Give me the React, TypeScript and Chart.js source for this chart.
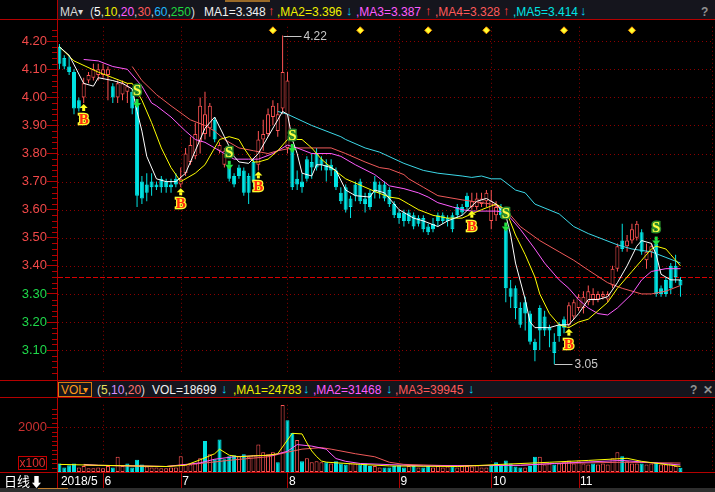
import React, { useEffect, useRef } from 'react';
import { Chart, registerables } from 'chart.js';

Chart.register(...registerables);

// ---------------- data ----------------
const opens = [
  4.18, 4.14, 4.11, 4.09, 3.99, 4.00, 4.06, 4.07, 4.08, 4.08,
  4.08, 4.04, 4.00, 4.01, 4.02, 4.02, 3.97, 3.70, 3.69, 3.70,
  3.69, 3.71, 3.70, 3.69, 3.71, 3.69, 3.73, 3.77, 3.79, 3.84,
  3.87, 3.89, 3.92, 3.81, 3.76, 3.755, 3.72, 3.75, 3.74, 3.72,
  3.77, 3.76, 3.85, 3.87, 3.93, 3.88, 3.96, 3.82, 3.81, 3.71,
  3.70, 3.78, 3.77, 3.80, 3.78, 3.76, 3.76, 3.74, 3.66, 3.68,
  3.64, 3.69, 3.70, 3.64, 3.66, 3.70, 3.69, 3.69, 3.67, 3.62,
  3.59, 3.59, 3.59, 3.58, 3.57, 3.57, 3.54, 3.55, 3.58, 3.58,
  3.57, 3.58, 3.61, 3.61, 3.65, 3.61, 3.61, 3.62, 3.63, 3.56,
  3.58, 3.61, 3.53, 3.32, 3.32, 3.25, 3.27, 3.23, 3.13, 3.25,
  3.22, 3.18, 3.13, 3.19, 3.21, 3.19, 3.22, 3.25, 3.25, 3.27,
  3.28, 3.28, 3.29, 3.28, 3.33, 3.39, 3.49, 3.47, 3.49, 3.50,
  3.52, 3.42, 3.45, 3.48, 3.32, 3.35, 3.40, 3.40, 3.35,
];
const highs = [
  4.19, 4.15, 4.15, 4.10, 4.00, 4.07, 4.09, 4.12, 4.12, 4.12,
  4.11, 4.05, 4.06, 4.06, 4.05, 4.03, 3.98, 3.72, 3.73, 3.73,
  3.70, 3.72, 3.71, 3.71, 3.73, 3.75, 3.82, 3.86, 3.91, 4.00,
  4.02, 3.98, 3.93, 3.84, 3.82, 3.76, 3.73, 3.76, 3.75, 3.73,
  3.78, 3.88, 3.92, 3.96, 3.99, 3.98, 4.22, 4.09, 3.82, 3.74,
  3.73, 3.79, 3.80, 3.82, 3.79, 3.78, 3.78, 3.75, 3.68, 3.69,
  3.65, 3.70, 3.71, 3.66, 3.67, 3.72, 3.70, 3.70, 3.68, 3.63,
  3.60, 3.60, 3.60, 3.59, 3.58, 3.58, 3.55, 3.57, 3.59, 3.59,
  3.58, 3.59, 3.62, 3.62, 3.66, 3.66, 3.66, 3.66, 3.67, 3.67,
  3.63, 3.62, 3.54, 3.35, 3.33, 3.27, 3.29, 3.24, 3.14, 3.26,
  3.24, 3.19, 3.16, 3.20, 3.22, 3.27, 3.28, 3.30, 3.31, 3.33,
  3.32, 3.31, 3.31, 3.31, 3.40, 3.48, 3.55, 3.51, 3.55, 3.56,
  3.53, 3.48, 3.48, 3.49, 3.33, 3.36, 3.41, 3.44, 3.36,
];
const lows = [
  4.10, 4.10, 4.08, 3.94, 3.95, 3.98, 4.05, 4.06, 4.06, 4.07,
  3.99, 3.98, 3.98, 3.99, 3.98, 3.94, 3.61, 3.62, 3.63, 3.65,
  3.67, 3.66, 3.66, 3.66, 3.68, 3.68, 3.72, 3.76, 3.78, 3.80,
  3.85, 3.86, 3.84, 3.80, 3.75, 3.70, 3.68, 3.71, 3.65, 3.62,
  3.68, 3.74, 3.81, 3.86, 3.90, 3.86, 3.94, 3.80, 3.67, 3.67,
  3.66, 3.70, 3.71, 3.74, 3.74, 3.70, 3.72, 3.67, 3.62, 3.59,
  3.57, 3.63, 3.62, 3.59, 3.60, 3.64, 3.64, 3.63, 3.61, 3.57,
  3.55, 3.54, 3.55, 3.53, 3.54, 3.52, 3.51, 3.52, 3.54, 3.55,
  3.54, 3.52, 3.57, 3.58, 3.60, 3.60, 3.60, 3.61, 3.61, 3.53,
  3.56, 3.57, 3.27, 3.25, 3.21, 3.18, 3.17, 3.12, 3.06, 3.10,
  3.15, 3.11, 3.05, 3.13, 3.16, 3.18, 3.21, 3.24, 3.23, 3.26,
  3.26, 3.27, 3.28, 3.27, 3.32, 3.38, 3.45, 3.45, 3.48, 3.49,
  3.44, 3.39, 3.43, 3.29, 3.29, 3.29, 3.30, 3.34, 3.29,
];
const closes = [
  4.12, 4.11, 4.09, 3.96, 3.96, 4.05, 4.08, 4.10, 4.10, 4.10,
  4.10, 4.00, 4.05, 4.05, 4.04, 3.96, 3.65, 3.64, 3.66, 3.68,
  3.68, 3.68, 3.68, 3.68, 3.69, 3.71, 3.80, 3.83, 3.87, 3.97,
  3.94, 3.97, 3.85, 3.83, 3.81, 3.71, 3.69, 3.72, 3.66, 3.66,
  3.70, 3.85, 3.87, 3.94, 3.97, 3.94, 4.09, 4.06, 3.68, 3.69,
  3.68, 3.71, 3.75, 3.75, 3.76, 3.74, 3.74, 3.68, 3.63, 3.60,
  3.61, 3.65, 3.63, 3.62, 3.61, 3.66, 3.66, 3.64, 3.62, 3.58,
  3.57, 3.56, 3.56, 3.54, 3.55, 3.53, 3.52, 3.53, 3.56, 3.56,
  3.56, 3.53, 3.58, 3.59, 3.61, 3.63, 3.64, 3.64, 3.66, 3.63,
  3.61, 3.58, 3.32, 3.29, 3.25, 3.19, 3.23, 3.13, 3.10, 3.17,
  3.17, 3.17, 3.09, 3.15, 3.18, 3.26, 3.27, 3.29, 3.29, 3.31,
  3.30, 3.30, 3.30, 3.30, 3.39, 3.47, 3.46, 3.49, 3.53, 3.55,
  3.45, 3.45, 3.47, 3.30, 3.30, 3.30, 3.32, 3.36, 3.33,
];
// volume, in units of 100 shares
const volumes = [
  381, 204, 300, 380, 204, 272, 163, 163, 204, 163,
  272, 204, 680, 272, 380, 204, 544, 340, 245, 204,
  204, 163, 163, 204, 204, 707, 340, 340, 380, 612,
  1387, 789, 571, 1455, 571, 707, 748, 720, 789, 680,
  748, 1224, 884, 789, 884, 435, 2992, 2312, 1740, 1430,
  476, 612, 435, 476, 435, 435, 381, 476, 381, 340,
  381, 380, 340, 380, 272, 272, 204, 204, 204, 272,
  300, 204, 272, 272, 204, 204, 272, 204, 272, 204,
  245, 245, 204, 272, 272, 245, 300, 204, 204, 272,
  435, 272, 517, 380, 245, 204, 204, 272, 680, 680,
  340, 380, 340, 380, 435, 517, 380, 517, 380, 340,
  380, 340, 380, 340, 612, 884, 707, 476, 380, 380,
  380, 340, 380, 435, 340, 340, 380, 272, 187,
];

// moving-average lines, read as [candle index, value]
const ma5Pts = [
  [0, 4.18], [2, 4.15], [5, 4.05], [7, 4.04], [8, 4.07], [11, 4.06], [13, 4.05], [15, 4.03],
  [16, 3.95], [17, 3.88], [18, 3.79], [20, 3.71], [22, 3.70], [24, 3.70], [26, 3.73], [28, 3.81],
  [30, 3.89], [32, 3.93], [34, 3.86], [36, 3.79], [37, 3.77], [39, 3.765], [41, 3.80], [43, 3.86],
  [45, 3.92], [46, 3.95], [47, 3.94], [48, 3.85], [49, 3.80], [50, 3.73], [52, 3.72], [53, 3.76],
  [54, 3.76], [56, 3.75], [57, 3.74], [59, 3.67], [61, 3.65], [64, 3.645], [65, 3.67], [67, 3.66],
  [70, 3.60], [73, 3.57], [75, 3.56], [78, 3.54], [80, 3.56], [83, 3.58], [86, 3.63], [88, 3.64],
  [90, 3.62], [92, 3.58], [93, 3.51], [94, 3.41], [96, 3.28], [97, 3.20], [98, 3.18], [101, 3.18],
  [103, 3.19], [105, 3.19], [107, 3.23], [109, 3.28], [111, 3.28], [113, 3.29], [115, 3.34],
  [117, 3.40], [119, 3.47], [120, 3.49], [122, 3.48], [123, 3.44], [124, 3.37], [126, 3.35], [128, 3.35],
];
const ma10Pts = [
  [0, 4.18], [3, 4.13], [8, 4.09], [11, 4.07], [14, 4.05], [15, 4.05], [17, 3.99], [19, 3.91],
  [21, 3.82], [23, 3.75], [25, 3.70], [28, 3.73], [30, 3.76], [32, 3.82], [33, 3.85], [35, 3.86],
  [37, 3.85], [38, 3.82], [40, 3.77], [41, 3.77], [43, 3.78], [45, 3.81], [47, 3.85], [50, 3.85],
  [52, 3.82], [54, 3.78], [56, 3.75], [59, 3.71], [63, 3.68], [65, 3.665], [68, 3.645], [70, 3.64],
  [72, 3.62], [74, 3.60], [77, 3.58], [80, 3.57], [83, 3.57], [87, 3.60], [90, 3.62], [92, 3.60],
  [94, 3.51], [96, 3.44], [98, 3.36], [99, 3.30], [101, 3.23], [103, 3.19], [105, 3.18], [107, 3.20],
  [109, 3.21], [111, 3.24], [113, 3.27], [115, 3.32], [118, 3.38], [120, 3.42], [122, 3.46],
  [123, 3.47], [125, 3.46], [126, 3.44], [128, 3.40],
];
const ma20Pts = [
  [5, 4.135], [8, 4.13], [11, 4.11], [14, 4.10], [15, 4.08], [17, 4.04], [19, 3.98], [20, 3.97],
  [23, 3.93], [26, 3.88], [28, 3.85], [30, 3.84], [33, 3.81], [36, 3.78], [39, 3.78], [41, 3.78],
  [44, 3.80], [47, 3.83], [49, 3.82], [52, 3.80], [56, 3.80], [58, 3.79], [61, 3.76], [65, 3.725],
  [68, 3.685], [71, 3.675], [74, 3.66], [76, 3.645], [78, 3.625], [81, 3.61], [83, 3.60], [85, 3.595],
  [90, 3.595], [92, 3.59], [95, 3.53], [98, 3.46], [100, 3.41], [103, 3.35], [105, 3.32], [107, 3.28],
  [109, 3.25], [111, 3.23], [113, 3.225], [115, 3.25], [118, 3.30], [120, 3.35], [122, 3.38],
  [125, 3.39], [128, 3.39],
];
const ma30Pts = [
  [15, 4.11], [17, 4.06], [20, 4.01], [23, 3.97], [27, 3.92], [30, 3.90], [32, 3.88], [34, 3.85],
  [37, 3.82], [40, 3.81], [43, 3.80], [45, 3.81], [48, 3.82], [53, 3.82], [56, 3.82], [59, 3.80],
  [63, 3.77], [66, 3.75], [68, 3.745], [71, 3.725], [72, 3.71], [75, 3.68], [78, 3.65], [83, 3.635],
  [89, 3.62], [92, 3.60], [95, 3.54], [99, 3.49], [103, 3.45], [106, 3.42], [109, 3.385], [113, 3.34],
  [116, 3.32], [120, 3.30], [122, 3.30], [125, 3.31], [128, 3.33],
];
const ma60Pts = [
  [45, 3.95], [47, 3.94], [52, 3.90], [58, 3.86], [59, 3.85], [63, 3.82], [66, 3.805], [71, 3.765],
  [75, 3.74], [78, 3.73], [83, 3.72], [85, 3.715], [87, 3.72], [89, 3.71], [91, 3.71], [94, 3.67],
  [96, 3.66], [98, 3.62], [103, 3.585], [106, 3.54], [109, 3.515], [115, 3.475], [118, 3.46],
  [122, 3.45], [125, 3.43], [128, 3.41],
];
const volMa5Pts = [
  [0, 340], [8, 300], [15, 272], [22, 245], [26, 300], [29, 544], [32, 816], [33, 1020], [35, 748],
  [37, 680], [40, 720], [43, 748], [45, 816], [47, 1428], [48, 1727], [50, 1700], [51, 1300],
  [52, 940], [53, 690], [54, 490], [55, 440], [62, 340], [68, 272], [82, 245], [91, 340],
  [101, 435], [109, 517], [117, 612], [120, 476], [128, 248],
];
const volMa10Pts = [
  [5, 340], [8, 300], [22, 245], [29, 408], [32, 571], [36, 680], [40, 720], [44, 748], [47, 925],
  [49, 1224], [52, 1156], [55, 1020], [56, 800], [57, 600], [59, 476], [62, 380], [75, 272],
  [95, 300], [102, 380], [116, 517], [128, 315],
];
const volMa20Pts = [
  [5, 300], [22, 245], [29, 380], [36, 544], [43, 680], [47, 884], [50, 1020], [54, 1088],
  [56, 1020], [61, 816], [65, 680], [68, 435], [71, 340], [82, 272], [95, 300], [102, 380],
  [116, 435], [128, 399],
];

const monthTicks: [number, string][] = [
  [0, '2018/5'], [9, '6'], [25, '7'], [47, '8'], [70, '9'], [89, '10'], [107, '11'],
];
const priceTicks = [3.1, 3.2, 3.3, 3.4, 3.5, 3.6, 3.7, 3.8, 3.9, 4.0, 4.1, 4.2];
const volTicks = [2000];
const baseLine = 3.36;
const buySignals = [5, 25, 41, 85, 105];
const sellSignals = [16, 35, 48, 92, 123];
const infoMarks = [44, 62, 76, 88, 104, 118];
const highMarkIndex = 46;
const lowMarkIndex = 102;

// ---------------- layout / style ----------------
const SLOTS = 135;
const labels = Array.from({ length: SLOTS }, (_, i) => String(i));
const PRICE_MIN = 3.0177;
const PRICE_MAX = 4.2514;
const VOL_MAX = 3000;
const UP = '#ff5454';
const DOWN = '#00e4e4';
const FRAME = '#b40000';
const GRID = '#8c0000';
const FONT = 'Arial, "Liberation Sans", sans-serif';
const monthMap = new Map(monthTicks);

const toPts = (arr: number[][]) => arr.map(([i, v]) => ({ x: labels[i], y: v }));
const lineDs = (arr: number[][], color: string) => ({
  type: 'line', data: toPts(arr), borderColor: color, borderWidth: 1, pointRadius: 0,
  tension: 0, fill: false, order: 1,
});

function drawGrid(chart: any, hValues: number[]) {
  const { ctx, chartArea: a, scales } = chart;
  ctx.save();
  ctx.lineWidth = 1;
  ctx.strokeStyle = GRID;
  ctx.setLineDash([1, 3]);
  ctx.beginPath();
  for (const v of hValues) {
    const py = Math.round(scales.y.getPixelForValue(v)) + 0.5;
    ctx.moveTo(a.left + 1, py); ctx.lineTo(a.right, py);
  }
  for (const [i] of monthTicks) {
    if (i === 0) continue;
    const px = Math.round(scales.x.getPixelForValue(i)) + 0.5;
    ctx.moveTo(px, a.top); ctx.lineTo(px, a.bottom);
  }
  ctx.moveTo(Math.round(a.right) + 0.5, a.top); ctx.lineTo(Math.round(a.right) + 0.5, a.bottom);
  ctx.stroke();
  ctx.restore();
}

const pricePlugin = {
  id: 'priceDecor',
  beforeDatasetsDraw(chart: any) {
    drawGrid(chart, priceTicks);
    const { ctx, chartArea: a, scales } = chart;
    ctx.save();
    ctx.strokeStyle = '#d80000';
    ctx.setLineDash([5, 2]);
    ctx.beginPath();
    const by = Math.round(scales.y.getPixelForValue(baseLine)) + 0.5;
    ctx.moveTo(a.left + 1, by); ctx.lineTo(a.right, by);
    ctx.stroke();
    ctx.restore();
  },
  afterDatasetsDraw(chart: any) {
    const { ctx, chartArea: a, scales } = chart;
    const X = (i: number) => scales.x.getPixelForValue(i);
    const Y = (v: number) => scales.y.getPixelForValue(v);
    ctx.save();
    // minor ticks on the price axis
    ctx.strokeStyle = FRAME;
    ctx.lineWidth = 1;
    ctx.beginPath();
    for (let k = 151; k <= 212; k++) {
      if (k % 5 === 0) continue;
      const py = Math.round(Y(k / 50)) + 0.5;
      ctx.moveTo(52, py); ctx.lineTo(57, py);
    }
    ctx.stroke();

    // info diamonds on top
    for (const i of infoMarks) {
      const cx = X(i), cy = a.top + 3.5;
      ctx.beginPath();
      ctx.moveTo(cx, cy - 3.5); ctx.lineTo(cx + 3.5, cy); ctx.lineTo(cx, cy + 3.5); ctx.lineTo(cx - 3.5, cy);
      ctx.closePath();
      ctx.fillStyle = '#ffff30';
      ctx.fill();
      ctx.strokeStyle = '#ff9a00';
      ctx.stroke();
    }

    // buy signals
    ctx.textAlign = 'center';
    ctx.textBaseline = 'middle';
    for (const i of buySignals) {
      const cx = X(i), ly = Y(lows[i]);
      ctx.fillStyle = '#ffff20';
      ctx.beginPath();
      ctx.moveTo(cx, ly + 1); ctx.lineTo(cx + 4, ly + 5); ctx.lineTo(cx - 4, ly + 5); ctx.closePath();
      ctx.fill();
      ctx.fillRect(cx - 1.5, ly + 5, 3, 3);
      ctx.font = 'bold 15px "Liberation Serif", "DejaVu Serif", serif';
      ctx.lineWidth = 2.5;
      ctx.strokeStyle = '#ffff30';
      ctx.strokeText('B', cx, ly + 17);
      ctx.fillStyle = '#ff2a10';
      ctx.fillText('B', cx, ly + 17);
    }
    // sell signals
    for (const i of sellSignals) {
      const cx = X(i), hy = Y(highs[i]);
      ctx.fillStyle = '#22e040';
      ctx.fillRect(cx - 1.5, hy - 4, 3, 4);
      ctx.beginPath();
      ctx.moveTo(cx - 4, hy); ctx.lineTo(cx + 4, hy); ctx.lineTo(cx, hy + 5); ctx.closePath();
      ctx.fill();
      ctx.font = 'bold 15px "Liberation Serif", "DejaVu Serif", serif';
      ctx.lineWidth = 3;
      ctx.strokeStyle = '#2a8a2a';
      ctx.strokeText('S', cx, hy - 12);
      ctx.fillStyle = '#ffff40';
      ctx.fillText('S', cx, hy - 12);
    }

    // extreme value labels
    ctx.font = '12px ' + FONT;
    ctx.textAlign = 'left';
    ctx.strokeStyle = '#c8c8c8';
    ctx.fillStyle = '#c8c8c8';
    ctx.lineWidth = 1;
    const marks: [number, number][] = [[highMarkIndex, highs[highMarkIndex]], [lowMarkIndex, lows[lowMarkIndex]]];
    for (const [i, v] of marks) {
      const cx = Math.round(X(i)) + 0.5, vy = Math.round(Y(v)) + 0.5;
      ctx.beginPath(); ctx.moveTo(cx, vy); ctx.lineTo(cx + 18, vy); ctx.stroke();
      ctx.fillText(v.toFixed(2), cx + 20, vy);
    }
    ctx.restore();
  },
};

const volPlugin = {
  id: 'volDecor',
  beforeDatasetsDraw(chart: any) {
    drawGrid(chart, volTicks);
  },
  afterDraw(chart: any) {
    const { ctx, chartArea: a, scales, height } = chart;
    ctx.save();
    ctx.strokeStyle = FRAME;
    ctx.lineWidth = 1;
    ctx.beginPath();
    for (let v = 200; v < VOL_MAX; v += 200) {
      if (v === 2000) continue;
      const py = Math.round(scales.y.getPixelForValue(v)) + 0.5;
      ctx.moveTo(52, py); ctx.lineTo(57, py);
    }
    for (const [i] of monthTicks) {
      if (i === 0) continue;
      const px = Math.round(scales.x.getPixelForValue(i)) + 0.5;
      ctx.moveTo(px, a.bottom); ctx.lineTo(px, height);
    }
    ctx.stroke();
    ctx.strokeStyle = '#c80000';
    ctx.strokeRect(18.5, a.bottom - 15.5, 28, 13);
    ctx.fillStyle = '#e03030';
    ctx.font = '12px ' + FONT;
    ctx.textAlign = 'center';
    ctx.textBaseline = 'middle';
    ctx.fillText('x100', 32.5, a.bottom - 8.5);
    ctx.restore();
  },
};

const Txt = ({ x, y, color, size = 12, bold = false, family, children }: any) => (
  <span style={{
    position: 'absolute', left: x, top: y, color, fontSize: size, lineHeight: '14px',
    whiteSpace: 'pre', fontWeight: bold ? 'bold' : 'normal', fontFamily: family || FONT,
  }}>{children}</span>
);

const Line = ({ x, y, w, h }: any) => (
  <div style={{ position: 'absolute', left: x, top: y, width: w, height: h, background: FRAME }} />
);

export default function App() {
  const priceRef = useRef<HTMLCanvasElement>(null);
  const volRef = useRef<HTMLCanvasElement>(null);

  useEffect(() => {
    const isUp = closes.map((c, i) => c >= opens[i]);
    const volUp = closes.map((c, i) => c >= (i > 0 ? closes[i - 1] : opens[i]));

    const priceChart = new Chart(priceRef.current as HTMLCanvasElement, {
      type: 'bar',
      data: {
        labels,
        datasets: [
          lineDs(ma5Pts, '#ffffff'),
          lineDs(ma10Pts, '#ffff00'),
          lineDs(ma20Pts, '#ff5cff'),
          lineDs(ma30Pts, '#f05a5a'),
          lineDs(ma60Pts, '#3cd8e8'),
          {
            type: 'bar', data: opens.map((o, i) => [o, closes[i]]),
            backgroundColor: isUp.map((u) => (u ? '#000000' : DOWN)),
            borderColor: isUp.map((u) => (u ? UP : DOWN)),
            borderWidth: 1, borderSkipped: false, barThickness: 4, grouped: false,
            inflateAmount: 0, minBarLength: 1, order: 2,
          },
          {
            type: 'bar', data: highs.map((h, i) => [lows[i], h]),
            backgroundColor: isUp.map((u) => (u ? UP : DOWN)),
            borderWidth: 0, barThickness: 1, grouped: false, inflateAmount: 0, order: 3,
          },
        ] as any,
      },
      options: {
        responsive: false, animation: false, devicePixelRatio: 1, events: [],
        layout: { padding: { top: 1, right: 3, bottom: 1, left: 0 } },
        plugins: { legend: { display: false }, tooltip: { enabled: false } },
        scales: {
          x: { type: 'category', display: false, offset: true },
          y: {
            type: 'linear', position: 'left', min: PRICE_MIN, max: PRICE_MAX,
            afterFit: (s: any) => { s.width = 57; },
            afterBuildTicks: (s: any) => { s.ticks = priceTicks.map((v) => ({ value: v })); },
            ticks: {
              padding: 0, font: { size: 13, family: FONT },
              color: (c: any) => (c.tick && c.tick.value >= baseLine ? '#f04848' : '#1fd84a'),
              callback: (v: any) => Number(v).toFixed(2),
            },
            grid: { drawOnChartArea: false, drawTicks: true, tickLength: 10, color: FRAME },
            border: { display: false },
          },
        },
      } as any,
      plugins: [pricePlugin],
    });

    const volChart = new Chart(volRef.current as HTMLCanvasElement, {
      type: 'bar',
      data: {
        labels,
        datasets: [
          lineDs(volMa5Pts, '#ffff00'),
          lineDs(volMa10Pts, '#ff5cff'),
          lineDs(volMa20Pts, '#f05a5a'),
          {
            type: 'bar', data: volumes,
            backgroundColor: volUp.map((u) => (u ? '#000000' : DOWN)),
            borderColor: volUp.map((u) => (u ? UP : DOWN)),
            borderWidth: 1, borderSkipped: false, barThickness: 4, grouped: false,
            inflateAmount: 0, order: 2,
          },
        ] as any,
      },
      options: {
        responsive: false, animation: false, devicePixelRatio: 1, events: [],
        layout: { padding: { top: 1, right: 3, bottom: 0, left: 0 } },
        plugins: { legend: { display: false }, tooltip: { enabled: false } },
        scales: {
          x: {
            type: 'category', offset: true, position: 'bottom',
            afterFit: (s: any) => { s.height = 16; },
            grid: { display: false, drawTicks: false, tickLength: 0 },
            border: { display: false },
            ticks: {
              autoSkip: false, maxRotation: 0, minRotation: 0, align: 'start', labelOffset: 1.5,
              padding: 2, color: '#ffffff', font: { size: 12, family: FONT },
              callback: (_v: any, idx: number) => (monthMap.has(idx) ? monthMap.get(idx) : null),
            },
          },
          y: {
            type: 'linear', position: 'left', min: 0, max: VOL_MAX,
            afterFit: (s: any) => { s.width = 57; },
            afterBuildTicks: (s: any) => { s.ticks = volTicks.map((v) => ({ value: v })); },
            ticks: {
              padding: 0, font: { size: 13, family: FONT }, color: '#c83030',
              callback: (v: any) => String(v),
            },
            grid: { drawOnChartArea: false, drawTicks: true, tickLength: 10, color: FRAME },
            border: { display: false },
          },
        },
      } as any,
      plugins: [volPlugin],
    });

    return () => { priceChart.destroy(); volChart.destroy(); };
  }, []);

  const hdr = '#d8d8d8';
  return (
    <div style={{
      position: 'fixed', left: 0, top: 0, width: 715, height: 492, background: '#000',
      overflow: 'hidden', fontFamily: FONT,
    }}>
      {/* top MA header */}
      <div style={{ position: 'absolute', left: 58, top: 0, width: 657, height: 19, background: '#15151d' }} />
      <div style={{ position: 'absolute', left: 225, top: 0, width: 45, height: 2, background: '#9a6a28' }} />
      <Txt x={60} y={4.5} color={hdr}>MA</Txt>
      <Txt x={78} y={4.5} color={hdr} size={10}>▾</Txt>
      <Txt x={90} y={4.5} color={hdr}>
        (<span style={{ color: '#ffffff' }}>5</span>,<span style={{ color: '#f0f000' }}>10</span>,
        <span style={{ color: '#ff5cff' }}>20</span>,<span style={{ color: '#ff5a5a' }}>30</span>,
        <span style={{ color: '#20b8ff' }}>60</span>,<span style={{ color: '#20d840' }}>250</span>)
      </Txt>
      <Txt x={204} y={4.5} color="#f0f0f0">MA1=3.348</Txt>
      <Txt x={268} y={3.5} color="#ff4040" size={13} bold>↑</Txt>
      <Txt x={277} y={4.5} color="#f0f000">,MA2=3.396</Txt>
      <Txt x={346} y={3.5} color="#00d8ff" size={13} bold>↓</Txt>
      <Txt x={356} y={4.5} color="#ff5cff">,MA3=3.387</Txt>
      <Txt x={425} y={3.5} color="#ff4040" size={13} bold>↑</Txt>
      <Txt x={435} y={4.5} color="#ff5a5a">,MA4=3.328</Txt>
      <Txt x={503} y={3.5} color="#ff4040" size={13} bold>↑</Txt>
      <Txt x={513} y={4.5} color="#00e4e4">,MA5=3.414</Txt>
      <Txt x={580} y={3.5} color="#00d8ff" size={13} bold>↓</Txt>
      <Txt x={701} y={4.5} color="#909090" bold>?</Txt>

      <canvas ref={priceRef} width={715} height={362} style={{ position: 'absolute', left: 0, top: 19 }} />

      {/* VOL header */}
      <div style={{ position: 'absolute', left: 58, top: 381, width: 657, height: 16, background: '#15151d' }} />
      <div style={{
        position: 'absolute', left: 58, top: 382, width: 34, height: 15, boxSizing: 'border-box',
        border: '1px solid #d87a10',
      }} />
      <Txt x={61} y={382.5} color="#ff9a1a">VOL</Txt>
      <Txt x={83} y={382.5} color="#ff9a1a" size={10}>▾</Txt>
      <Txt x={97} y={382.5} color={hdr}>
        (<span style={{ color: '#e8e060' }}>5</span>,<span style={{ color: '#d890ff' }}>10</span>,
        <span style={{ color: '#ff7070' }}>20</span>)
      </Txt>
      <Txt x={152} y={382.5} color="#f0f0f0">VOL=18699</Txt>
      <Txt x={221} y={381.5} color="#00d8ff" size={13} bold>↓</Txt>
      <Txt x={233} y={382.5} color="#f0f000">,MA1=24783</Txt>
      <Txt x={303} y={381.5} color="#00d8ff" size={13} bold>↓</Txt>
      <Txt x={313} y={382.5} color="#ff5cff">,MA2=31468</Txt>
      <Txt x={386} y={381.5} color="#00d8ff" size={13} bold>↓</Txt>
      <Txt x={395} y={382.5} color="#ff5a5a">,MA3=39945</Txt>
      <Txt x={468} y={381.5} color="#00d8ff" size={13} bold>↓</Txt>
      <Txt x={690} y={382.5} color="#909090" bold>?</Txt>
      <Txt x={703} y={382.5} color="#909090" bold>✕</Txt>

      <canvas ref={volRef} width={715} height={91} style={{ position: 'absolute', left: 0, top: 397 }} />

      {/* bottom */}
      <Txt x={4} y={474} color="#ffffff" size={13} family={'"Noto Sans CJK SC", ' + FONT}>日线⬇</Txt>
      <div style={{ position: 'absolute', left: 0, top: 488, width: 715, height: 4, background: '#2e2e2e' }} />
      <div style={{ position: 'absolute', left: 38, top: 488, width: 30, height: 1, background: '#c08030' }} />

      {/* frame lines */}
      <Line x={0} y={19} w={715} h={1} />
      <Line x={0} y={380} w={715} h={1} />
      <Line x={0} y={397} w={715} h={1} />
      <Line x={0} y={472} w={715} h={1} />
      <Line x={57} y={0} w={1} h={488} />
    </div>
  );
}
